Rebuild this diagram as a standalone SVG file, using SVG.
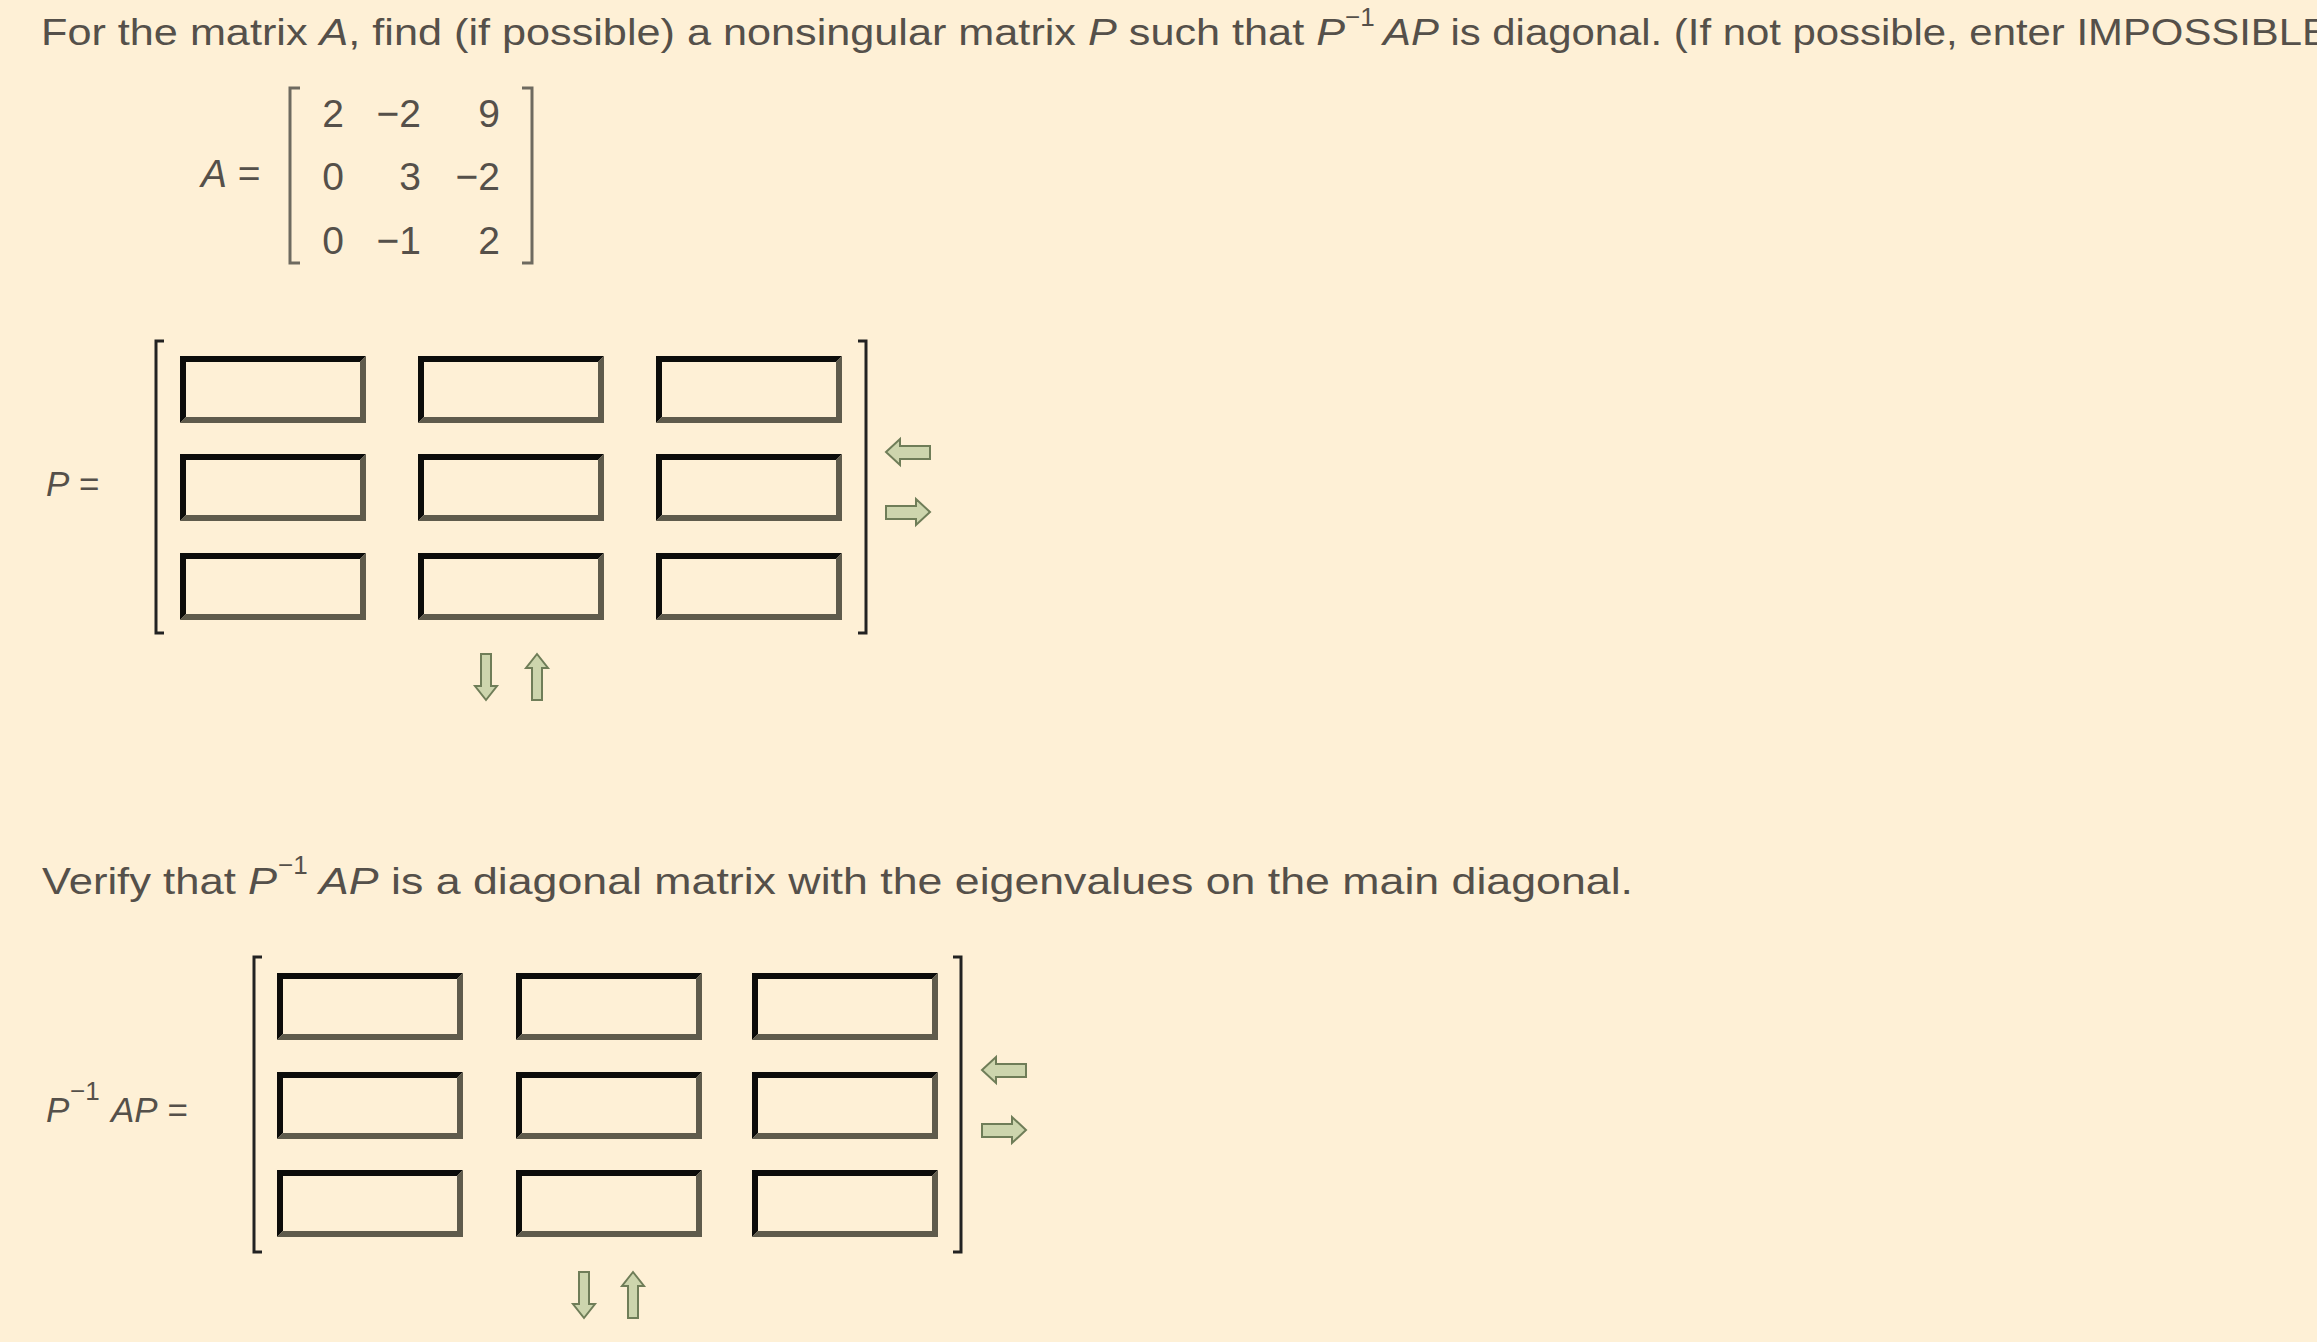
<svg xmlns="http://www.w3.org/2000/svg" width="2317" height="1342" viewBox="0 0 2317 1342">
<style>
text{font-family:"Liberation Sans",Arial,sans-serif;fill:#55504a}
.t{font-size:37px}
.m{font-size:35px}
.me{font-size:39px}
.sup{font-size:26px}
.i{font-style:italic}
.br{fill:none;stroke:#222;stroke-width:3}
.bra{fill:none;stroke:#6e6a60;stroke-width:3}
.ha{fill:#cdd5ad;stroke:#6f7d58;stroke-width:2}
</style>
<defs>
<g id="box">
<rect x="0" y="0" width="186" height="67" fill="#fef0d6"/>
<polygon points="0,0 186,0 180,6 6,6 6,61 0,67" fill="#0c0c0a"/>
<polygon points="186,0 186,67 0,67 6,61 180,61 180,6" fill="#5f5b4c"/>
</g>
<polygon id="la" points="0,0 14,-13 14,-6 44,-6 44,7 14,7 14,13" class="ha"/>
<polygon id="ra" points="44,0 30,-13 30,-6 0,-6 0,7 30,7 30,13" class="ha"/>
<polygon id="da" points="0,46 -11,32 -5,32 -5,0 5,0 5,32 11,32" class="ha"/>
<polygon id="ua" points="0,0 -11,14 -5,14 -5,46 5,46 5,14 11,14" class="ha"/>
</defs>
<rect width="2317" height="1342" fill="#fef0d6"/>
<g id="title">
<text class="t" x="41" y="45" textLength="1304" lengthAdjust="spacingAndGlyphs">For the matrix <tspan class="i">A</tspan>, find (if possible) a nonsingular matrix <tspan class="i">P</tspan> such that <tspan class="i">P</tspan></text>
<text class="sup" x="1345" y="26">−1</text>
<text class="t" x="1383" y="45" textLength="947" lengthAdjust="spacingAndGlyphs"><tspan class="i">AP</tspan> is diagonal. (If not possible, enter IMPOSSIBLE</text>
</g>
<g id="matrixA">
<text class="me" x="201" y="187"><tspan class="i">A</tspan> =</text>
<path class="bra" d="M300,88 H290 V263 H300 M522,88 H532 V263 H522"/>
<g class="me" text-anchor="end">
<text x="344" y="127">2</text><text x="421" y="127">−2</text><text x="500" y="127">9</text>
<text x="344" y="190">0</text><text x="421" y="190">3</text><text x="500" y="190">−2</text>
<text x="344" y="254">0</text><text x="421" y="254">−1</text><text x="500" y="254">2</text>
</g>
</g>
<g id="matrixP">
<text class="m" x="46" y="496"><tspan class="i">P</tspan> =</text>
<path class="br" d="M164,341 H156 V633 H164 M858,341 H866 V633 H858"/>
<use href="#box" x="180" y="356"/><use href="#box" x="418" y="356"/><use href="#box" x="656" y="356"/>
<use href="#box" x="180" y="454"/><use href="#box" x="418" y="454"/><use href="#box" x="656" y="454"/>
<use href="#box" x="180" y="553"/><use href="#box" x="418" y="553"/><use href="#box" x="656" y="553"/>
<use href="#la" x="886" y="452"/><use href="#ra" x="886" y="512"/>
<use href="#da" x="486" y="654"/><use href="#ua" x="537" y="654"/>
</g>
<g id="verify">
<text class="t" x="42" y="894" textLength="235" lengthAdjust="spacingAndGlyphs">Verify that <tspan class="i">P</tspan></text>
<text class="sup" x="278" y="874">−1</text>
<text class="t" x="319" y="894" textLength="1314" lengthAdjust="spacingAndGlyphs"><tspan class="i">AP</tspan> is a diagonal matrix with the eigenvalues on the main diagonal.</text>
</g>
<g id="matrixD">
<text class="m i" x="46" y="1122">P</text>
<text class="sup" x="70" y="1100">−1</text>
<text class="m" x="111" y="1122"><tspan class="i">AP</tspan> =</text>
<path class="br" d="M262,957 H254 V1252 H262 M953,957 H961 V1252 H953"/>
<use href="#box" x="277" y="973"/><use href="#box" x="516" y="973"/><use href="#box" x="752" y="973"/>
<use href="#box" x="277" y="1072"/><use href="#box" x="516" y="1072"/><use href="#box" x="752" y="1072"/>
<use href="#box" x="277" y="1170"/><use href="#box" x="516" y="1170"/><use href="#box" x="752" y="1170"/>
<use href="#la" x="982" y="1070"/><use href="#ra" x="982" y="1130"/>
<use href="#da" x="584" y="1272"/><use href="#ua" x="633" y="1272"/>
</g>
</svg>
